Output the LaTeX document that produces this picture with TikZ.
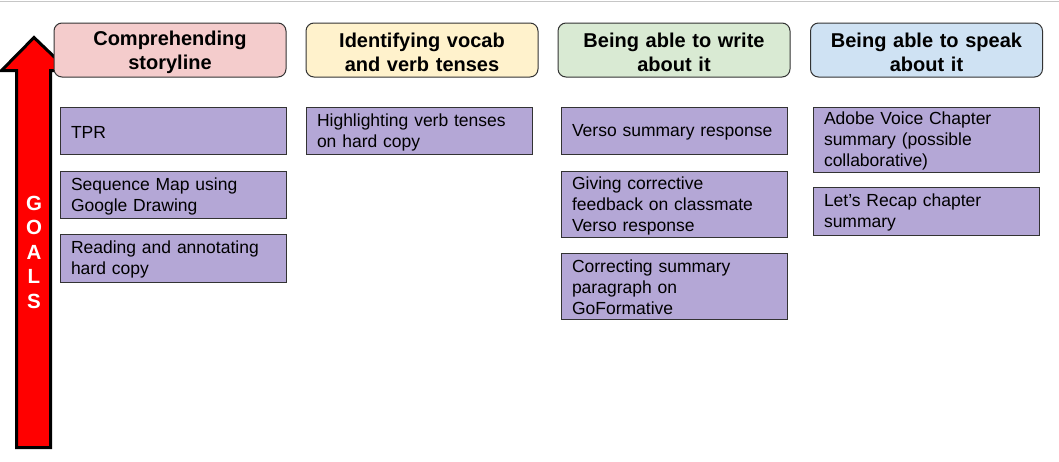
\documentclass[tikz,border=0pt]{standalone}
\usepackage{fontspec}
\setmainfont{Liberation Sans}
\definecolor{hpink}{HTML}{F4CCCC}
\definecolor{hyellow}{HTML}{FFF2CC}
\definecolor{hgreen}{HTML}{D9EAD3}
\definecolor{hblue}{HTML}{CFE2F3}
\definecolor{lilac}{HTML}{B4A7D6}
\definecolor{edge}{HTML}{333333}
\tikzset{
  header/.style={draw=edge, line width=1pt, rounded corners=8pt, minimum width=232pt, minimum height=54pt, text width=222pt, inner xsep=5pt, inner ysep=0pt, align=center, font=\fontsize{20}{24}\selectfont\bfseries, execute at begin node={\rule{0pt}{18.8pt}}},
  task/.style={draw=edge, fill=lilac, line width=1pt, text width=204pt, inner xsep=11pt, inner ysep=0pt, align=left, font=\fontsize{17.5}{21}\selectfont, execute at begin node={\rule{0pt}{16pt}}},
  goalarrow/.style={fill=red, draw=black, line width=3pt, line join=miter},
}
\begin{document}
\begin{tikzpicture}[x=1pt,y=-1pt]
\useasboundingbox (0,0) rectangle (1059,461);
\fill[white] (0,0) rectangle (1059,461);
\draw[gray!45, line width=1.5pt] (0,1.5) -- (1059,1.5);

% arrow
\draw[goalarrow] (16.5,447.5) -- (16.5,70.5) -- (1.5,70.5) -- (34,37.5) -- (68.5,70.5) -- (50.5,70.5) -- (50.5,447.5) -- cycle;
\node[text=white, font=\fontsize{20.5}{24.5}\selectfont\bfseries, align=center, inner sep=0pt] (goals) at (34,252) {G\\O\\A\\L\\S};

% headers
\node[header, fill=hpink]   (h1) at (170,50)   {Comprehending\\storyline};
\node[header, fill=hyellow] (h2) at (422,50)   {Identifying vocab\\and verb tenses};
\node[header, fill=hgreen]  (h3) at (674,50)   {Being able to write\\about it};
\node[header, fill=hblue]   (h4) at (926.5,50) {Being able to speak\\about it};

% column 1
\node[task, minimum height=47pt] (tpr)  at (173,130.5) {TPR};
\node[task, minimum height=47pt] (seq)  at (173,194.5) {Sequence Map using\\Google Drawing};
\node[task, minimum height=48pt] (read) at (173,258)   {Reading and annotating\\hard copy};

% column 2
\node[task, minimum height=47pt] (high) at (419,130.5) {Highlighting verb tenses\\on hard copy};

% column 3
\node[task, minimum height=47pt] (verso)   at (674,130.5) {Verso summary response};
\node[task, minimum height=66pt] (giving)  at (674,204)   {Giving corrective\\feedback on classmate\\Verso response};
\node[task, minimum height=66pt] (correct) at (674,286)   {Correcting summary\\paragraph on\\GoFormative};

% column 4
\node[task, minimum height=65pt] (adobe) at (926,139.5) {Adobe Voice Chapter\\summary (possible\\collaborative)};
\node[task, minimum height=48pt] (recap) at (926,211)   {Let’s Recap chapter\\summary};
\end{tikzpicture}
\end{document}
